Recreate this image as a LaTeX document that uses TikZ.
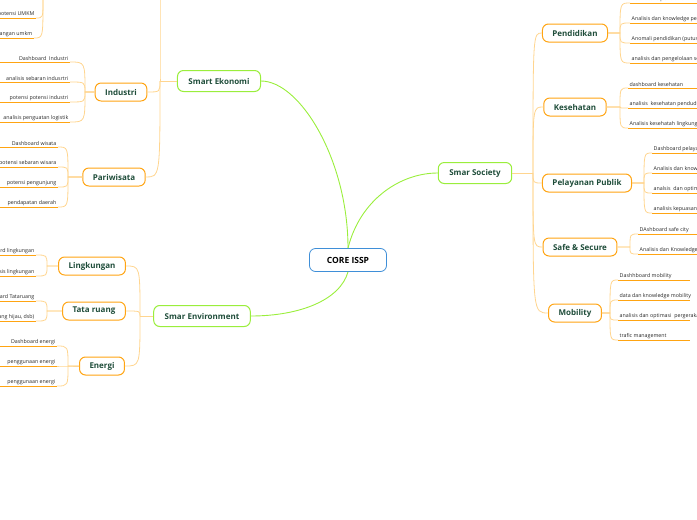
\documentclass[tikz,border=0pt]{standalone}
\usepackage{fontspec}
\setmainfont{Open Sans}
\definecolor{txt}{HTML}{1F4D3A}
\definecolor{lime}{HTML}{9AEE3C}
\definecolor{org}{HTML}{FFA412}
\definecolor{lorg}{HTML}{FFD58F}
\definecolor{blu}{HTML}{3F8FD8}
\tikzset{
 mainbox/.style={draw=lime,line width=1pt,rounded corners=6pt,fill=white,text=txt,font=\fontsize{8}{9}\selectfont\bfseries,minimum height=21pt,inner xsep=11pt},
 subbox/.style={draw=org,line width=1pt,rounded corners=6pt,fill=white,text=txt,font=\fontsize{8}{9}\selectfont\bfseries,minimum height=18pt,inner xsep=10pt},
 corebox/.style={draw=blu,line width=0.8pt,rounded corners=6pt,fill=white,text=black,font=\fontsize{8.5}{10}\selectfont\bfseries,minimum height=23pt,minimum width=77pt},
 lleaf/.style={font=\fontsize{5.3}{6}\selectfont,text=black!85,inner sep=1.5pt,anchor=south east,align=right},
 rleaf/.style={font=\fontsize{5.3}{6}\selectfont,text=black!85,inner sep=1.5pt,anchor=south west,align=left},
 uline/.style={draw=org,line width=1pt},
 mline/.style={draw=lime,line width=0.9pt},
 bline/.style={draw=lorg,line width=0.8pt},
}
\begin{document}
\begin{tikzpicture}[x=1pt,y=-1pt]
\useasboundingbox (0,0) rectangle (697,520);
\clip (0,0) rectangle (697,520);
% core and main
\node[corebox] (core) at (348,260) {CORE ISSP};
\node[mainbox] (ek) at (219,81) {Smart Ekonomi};
\node[mainbox] (so) at (475,173) {Smar Society};
\node[mainbox] (en) at (202,316) {Smar Environment};
\draw[mline] (core.north) .. controls (348,160) and (300,81) .. (ek.east);
\draw[mline] (core.north) .. controls (360,200) and (400,173) .. (so.west);
\draw[mline] (core.south) .. controls (340,300) and (300,316) .. (en.east);
% left subnodes
\node[subbox] (ind) at (121,92) {Industri};
\node[subbox] (par) at (114,177) {Pariwisata};
\node[subbox] (lin) at (92,266) {Lingkungan};
\node[subbox] (tat) at (94,311) {Tata ruang};
\node[subbox] (ene) at (102,366) {Energi};
\coordinate (fek) at (160,81);
\coordinate (top) at (160,-10);
\draw[bline] (ek.west) -- (fek) .. controls (fek|-top) .. (top);
\draw[bline] (fek) .. controls (fek|-ind) .. (ind.east);
\draw[bline] (fek) .. controls (fek|-par) .. (par.east);
\coordinate (fen) at (140,316);
\draw[bline] (en.west) -- (fen);
\draw[bline] (fen) .. controls (fen|-lin) .. (lin.east);
\draw[bline] (fen) .. controls (fen|-tat) .. (tat.east);
\draw[bline] (fen) .. controls (fen|-ene) .. (ene.east);
% hidden top branch (UMKM)
\node[lleaf] (u1) at (36,18) {potensi UMKM};
\node[lleaf] (u2) at (34,38) {pengembangan umkm};
\coordinate (fu) at (43,0);
\coordinate (fu0) at (43,-20);
\draw[bline] (fu0) -- (fu) .. controls (fu|-u1.south) .. (u1.south east);
\draw[bline] (fu) .. controls (fu|-u2.south) .. (u2.south east);
\draw[uline] (u1.south west)--(u1.south east);
\draw[uline] (u2.south west)--(u2.south east);
% left leaves
\foreach \n/\p/\f/\x/\y/\t in {
 i1/ind/85/70/62/{Dashboard\ \ Industri},
 i2/ind/85/70/82/{analisis sebaran indusrtri},
 i3/ind/85/70/102/{potensi potensi industri},
 i4/ind/85/70/122/{analisis penguatan logistik},
 p1/par/68/58/147/{Dashboard wisata},
 p2/par/68/58/167/{potensi sebaran wisara},
 p3/par/68/58/187/{potensi pengunjung},
 p4/par/68/58/207/{pendapatan daerah},
 l1/lin/47/36/255/{dashboard lingkungan},
 l2/lin/47/36/276/{analisis lingkungan},
 t1/tat/47/36/301/{Dashboard Tataruang},
 t2/tat/47/36/321/{(ruang hijau, dsb)},
 e1/ene/68/57/346/{Dashboard energi},
 e2/ene/68/57/366/{penggunaan energi},
 e3/ene/68/57/386/{penggunaan energi}}{
 \node[lleaf] (\n) at (\x,\y) {\t};
 \draw[uline] (\x-160,\y) -- (\x,\y);
 \draw[bline] (\p.west) -- (\f,0|-\p.west) .. controls (\f,\y) .. (\n.south east);
}
% right subnodes
\node[subbox] (pen) at (575,33) {Pendidikan};
\node[subbox] (kes) at (575,107) {Kesehatan};
\node[subbox] (pel) at (587,183) {Pelayanan Publik};
\node[subbox] (saf) at (580,247) {Safe \& Secure};
\node[subbox] (mob) at (575,313) {Mobility};
\coordinate (fso) at (533,173);
\draw[bline] (so.east) -- (fso);
\foreach \c in {pen,kes,pel,saf,mob}{
 \draw[bline] (fso) .. controls (fso|-\c) .. (\c.west);
}
\foreach \n/\p/\f/\x/\y/\t in {
 d1/pen/620/630/3/{Dashboard pendidikan},
 d2/pen/620/630/23/{Analisis dan knowledge pendidikan},
 d3/pen/620/630/43/{Anomali pendidikan (putus sekolah)},
 d4/pen/620/630/63/{analisis dan pengelolaan sekolah},
 k1/kes/620/628/88/{dashboard kesehatan},
 k2/kes/620/628/108/{analisis\ \ kesehatan penduduk},
 k3/kes/620/628/128/{Analisis kesehatah lingkungan},
 s1/pel/644/652/153/{Dashboard pelayanan},
 s2/pel/644/652/173/{Analisis dan knowledge},
 s3/pel/644/652/193/{analsis\ \ dan optimasi},
 s4/pel/644/652/213/{analisis kepuasan},
 f1/saf/630/638/234/{DAshboard safe city},
 f2/saf/630/638/254/{Analisis dan Knowledge},
 m1/mob/610/618/280/{Dashhboard mobility},
 m2/mob/610/618/300/{data dan knowledge mobility},
 m3/mob/610/618/320/{analisis dan optimasi\ \ pergerakan},
 m4/mob/610/618/340/{trafic management}}{
 \node[rleaf] (\n) at (\x,\y) {\t};
 \draw[uline] (\x,\y) -- (\x+72,\y);
 \draw[bline] (\p.east) -- (\f,0|-\p.east) .. controls (\f,\y) .. (\n.south west);
}
\end{tikzpicture}
\end{document}
